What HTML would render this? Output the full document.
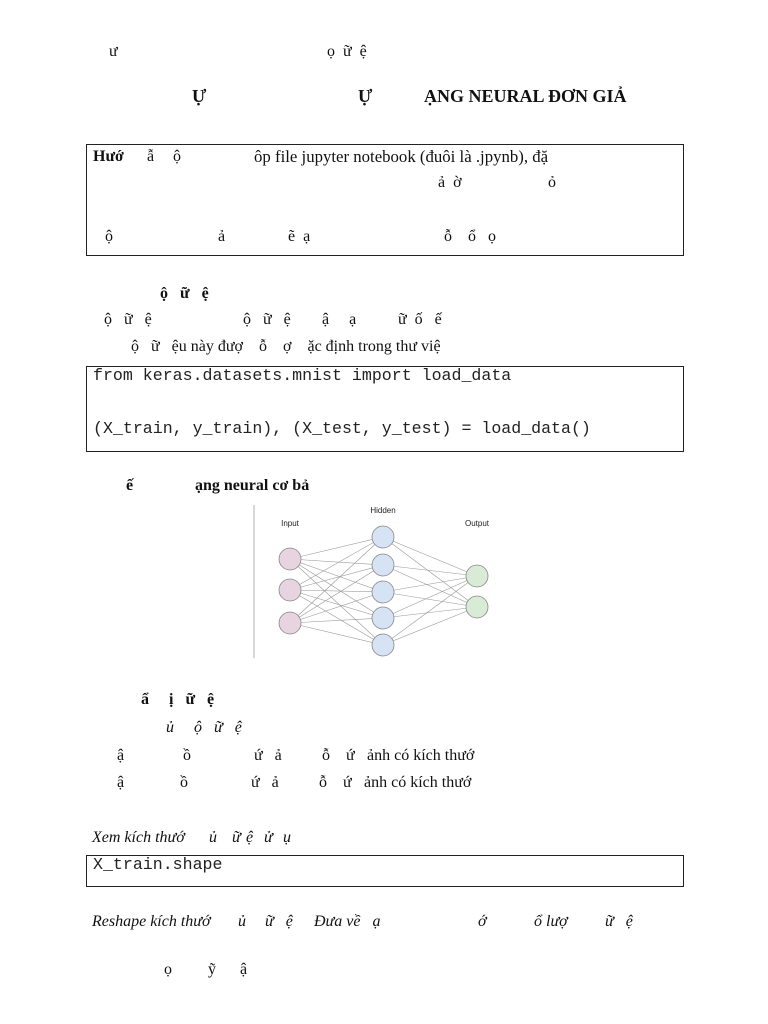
<!DOCTYPE html>
<html><head><meta charset="utf-8"><style>
body{margin:0;background:#fff;width:768px;height:1024px;position:relative;overflow:hidden;font-family:"Liberation Serif","Noto Serif CJK SC",serif;font-size:16px;color:#111}
.t{position:absolute;line-height:20px;white-space:pre}
.b{font-weight:bold}.i{font-style:italic}
.m{font-family:"Liberation Mono",monospace;font-size:16.6px;color:#222}
.box{position:absolute;border:1px solid #222;left:86px;width:596px}
</style></head><body>
<span class="t" style="left:109px;top:42px">ư</span>
<span class="t" style="left:327px;top:42px">ọ  ữ  ệ</span>
<span class="t b" style="left:192px;top:86px;font-size:18px">Ự</span>
<span class="t b" style="left:358px;top:86px;font-size:18px">Ự</span>
<span class="t b" style="left:424px;top:86px;font-size:18px">ẠNG NEURAL ĐƠN GIẢ</span>

<div class="box" style="top:144px;height:110px"></div>
<span class="t b" style="left:93px;top:147px">Hướ</span>
<span class="t" style="left:147px;top:147px">ẫ</span>
<span class="t" style="left:173px;top:147px">ộ</span>
<span class="t" style="left:254px;top:147px;font-size:16.8px">ôp file jupyter notebook (đuôi là .jpynb), đặ</span>
<span class="t" style="left:438px;top:173px">ả  ờ</span>
<span class="t" style="left:548px;top:173px">ỏ</span>
<span class="t" style="left:105px;top:227px">ộ</span>
<span class="t" style="left:218px;top:227px">ả</span>
<span class="t" style="left:288px;top:227px">ẽ  ạ</span>
<span class="t" style="left:444px;top:227px">ỗ    ổ   ọ</span>

<span class="t b" style="left:160px;top:284px">ộ   ữ   ệ</span>
<span class="t" style="left:104px;top:310px">ộ   ữ   ệ</span>
<span class="t" style="left:243px;top:310px">ộ   ữ   ệ</span>
<span class="t" style="left:322px;top:310px">ậ     ạ</span>
<span class="t" style="left:398px;top:310px">ữ  ố   ế</span>
<span class="t" style="left:131px;top:337px">ộ   ữ   ệu này đượ    ỗ    ợ    ặc định trong thư việ</span>

<div class="box" style="top:366px;height:84px"></div>
<span class="t m" style="left:93px;top:366px">from keras.datasets.mnist import load_data</span>
<span class="t m" style="left:93px;top:419px">(X_train, y_train), (X_test, y_test) = load_data()</span>

<span class="t b" style="left:126px;top:476px">ế</span>
<span class="t b" style="left:195px;top:476px">ạng neural cơ bả</span>

<svg style="position:absolute;left:0;top:0" width="768" height="1024">
<line x1="254" y1="505" x2="254" y2="658" stroke="#ccc" stroke-width="1.5"/>
<g font-family="Liberation Sans,sans-serif" font-size="8" fill="#222" text-anchor="middle">
<text x="290" y="526">Input</text><text x="383" y="513">Hidden</text><text x="477" y="526">Output</text></g>
<g stroke="#999" stroke-width="0.6">
<line x1="290" y1="559" x2="383" y2="537"/><line x1="290" y1="559" x2="383" y2="565"/><line x1="290" y1="559" x2="383" y2="592"/><line x1="290" y1="559" x2="383" y2="618"/><line x1="290" y1="559" x2="383" y2="645"/>
<line x1="290" y1="590" x2="383" y2="537"/><line x1="290" y1="590" x2="383" y2="565"/><line x1="290" y1="590" x2="383" y2="592"/><line x1="290" y1="590" x2="383" y2="618"/><line x1="290" y1="590" x2="383" y2="645"/>
<line x1="290" y1="623" x2="383" y2="537"/><line x1="290" y1="623" x2="383" y2="565"/><line x1="290" y1="623" x2="383" y2="592"/><line x1="290" y1="623" x2="383" y2="618"/><line x1="290" y1="623" x2="383" y2="645"/>
<line x1="383" y1="537" x2="477" y2="576"/><line x1="383" y1="565" x2="477" y2="576"/><line x1="383" y1="592" x2="477" y2="576"/><line x1="383" y1="618" x2="477" y2="576"/><line x1="383" y1="645" x2="477" y2="576"/>
<line x1="383" y1="537" x2="477" y2="607"/><line x1="383" y1="565" x2="477" y2="607"/><line x1="383" y1="592" x2="477" y2="607"/><line x1="383" y1="618" x2="477" y2="607"/><line x1="383" y1="645" x2="477" y2="607"/>
</g>
<g stroke="#888" stroke-width="0.8">
<g fill="#e8d3e0"><circle cx="290" cy="559" r="11"/><circle cx="290" cy="590" r="11"/><circle cx="290" cy="623" r="11"/></g>
<g fill="#d6e3f5"><circle cx="383" cy="537" r="11"/><circle cx="383" cy="565" r="11"/><circle cx="383" cy="592" r="11"/><circle cx="383" cy="618" r="11"/><circle cx="383" cy="645" r="11"/></g>
<g fill="#d8ebd5"><circle cx="477" cy="576" r="11"/><circle cx="477" cy="607" r="11"/></g>
</g>
</svg>

<span class="t b" style="left:141px;top:690px">ẩ     ị   ữ   ệ</span>
<span class="t i" style="left:166px;top:718px">ủ     ộ   ữ   ệ</span>
<span class="t" style="left:117px;top:746px">ậ</span>
<span class="t" style="left:183px;top:746px">ồ</span>
<span class="t" style="left:254px;top:746px">ứ   ả</span>
<span class="t" style="left:322px;top:746px">ỗ    ứ</span>
<span class="t" style="left:367px;top:746px">ảnh có kích thướ</span>
<span class="t" style="left:117px;top:773px">ậ</span>
<span class="t" style="left:180px;top:773px">ồ</span>
<span class="t" style="left:251px;top:773px">ứ   ả</span>
<span class="t" style="left:319px;top:773px">ỗ    ứ</span>
<span class="t" style="left:364px;top:773px">ảnh có kích thướ</span>

<span class="t i" style="left:92px;top:828px">Xem kích thướ</span>
<span class="t i" style="left:209px;top:828px">ủ</span>
<span class="t i" style="left:232px;top:828px">ữ</span>
<span class="t i" style="left:246px;top:828px">ệ</span>
<span class="t i" style="left:264px;top:828px">ử</span>
<span class="t i" style="left:283px;top:828px">ụ</span>
<div class="box" style="top:855px;height:30px"></div>
<span class="t m" style="left:93px;top:855px">X_train.shape</span>

<span class="t i" style="left:92px;top:912px">Reshape kích thướ</span>
<span class="t i" style="left:238px;top:912px">ủ</span>
<span class="t i" style="left:265px;top:912px">ữ   ệ</span>
<span class="t i" style="left:314px;top:912px">Đưa về   ạ</span>
<span class="t i" style="left:478px;top:912px">ớ</span>
<span class="t i" style="left:534px;top:912px">ổ lượ</span>
<span class="t i" style="left:605px;top:912px">ữ   ệ</span>
<span class="t" style="left:164px;top:960px">ọ         ỹ      ậ</span>
</body></html>
